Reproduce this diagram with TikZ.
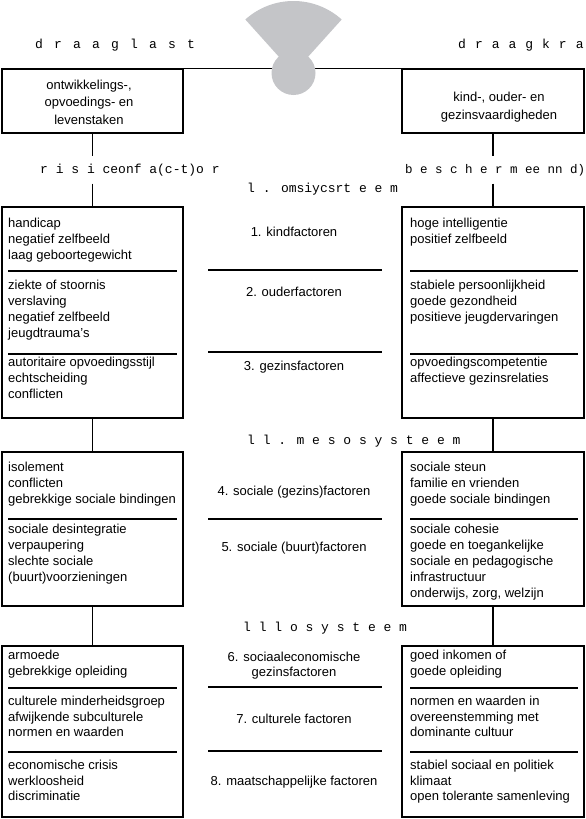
\documentclass[tikz,border=0pt]{standalone}
\usepackage{fontspec}
\setmainfont{Liberation Sans}
\newfontfamily\levelfont{Liberation Mono}
\definecolor{fangray}{RGB}{196,197,200}

\begin{document}
\begin{tikzpicture}[x=1pt, y=-1pt,
    cell/.style={draw, line width=1.3pt, inner sep=0pt},
    item/.style={anchor=mid west, inner sep=0pt, font=\fontsize{13}{16}\selectfont},
    factor/.style={inner sep=0pt, align=center, font=\fontsize{13}{15}\selectfont},
    task/.style={inner sep=0pt, align=center, font=\fontsize{13}{17.5}\selectfont},
    level/.style={anchor=west, inner sep=0pt, minimum height=27pt, font=\levelfont\fontsize{13}{16}\selectfont},
    head/.style={anchor=mid west, inner sep=0pt, font=\levelfont\fontsize{13}{16}\selectfont},
    sep/.style={line width=1.3pt},
    link/.style={line width=1.3pt}
  ]
  \useasboundingbox (0,0) rectangle (586,819);

  % top row
  \node[head] (lblLoad) at (35,46) {\spaceskip=11.2pt d r a a g l a s t};
  \node[head] (lblPower) at (458,46) {\spaceskip=9pt d r a a g k r a};
  \node[cell, minimum width=181pt, minimum height=64pt] (topL) at (92.5,101) {};
  \node[cell, minimum width=182pt, minimum height=64pt] (topR) at (493,101) {};
  \draw[link] (topL.north east) -- (topR.north west);
  \node[task] (taskL) at (89,102) {ontwikkelings-,\\opvoedings- en\\levenstaken};
  \node[task] (taskR) at (499,107) {kind-, ouder- en\\gezinsvaardigheden};

  % balance
  \node[circle, fill=fangray, minimum size=44pt, inner sep=0pt] (hub) at (293.5,73) {};
  \fill[fangray] (hub.center) -- ++(-132:72) arc[start angle=-132, end angle=-48, radius=72] -- cycle;

  % level labels
  \node[level] (lblRisk) at (40,170) {r i s i ceonf a(c-t)o  r};
  \node[level, font=\levelfont\fontsize{12.5}{16}\selectfont] (lblProtect) at (405,170) {b e s c h e r m ee nn d)};
  \node[level] (lblMicro) at (247,189) {l .  omsiycsrt e e m};
  \node[level] (lblMeso) at (247,441) {l l .   m e s o s y s t e e  m};
  \node[level] (lblMacro) at (243,628) {l l l o s y s t e e m};

  % boxes
  \node[cell, minimum width=181pt, minimum height=211pt] (microL) at (92.5,312.5) {};
  \node[cell, minimum width=182pt, minimum height=211pt] (microR) at (493,312.5) {};
  \node[cell, minimum width=181pt, minimum height=154pt] (mesoL) at (92.5,529) {};
  \node[cell, minimum width=182pt, minimum height=154pt] (mesoR) at (493,529) {};
  \node[cell, minimum width=181pt, minimum height=171pt] (macroL) at (92.5,731.5) {};
  \node[cell, minimum width=182pt, minimum height=171pt] (macroR) at (493,731.5) {};

  % connectors
  \draw[link] (topL.south) -- (topL.south |- lblRisk.north);
  \draw[link] (topL.south |- lblRisk.south) -- (microL.north);
  \draw[link] (topR.south) -- (topR.south |- lblProtect.north);
  \draw[link] (topR.south |- lblProtect.south) -- (microR.north);
  \draw[link] (microL.south) -- (mesoL.north);
  \draw[link] (microR.south) -- (mesoR.north);
  \draw[link] (mesoL.south) -- (macroL.north);
  \draw[link] (mesoR.south) -- (macroR.north);

  % separators
  \foreach \y in {271,354,519,688,752} {
    \draw[sep] (8,\y) -- (177,\y);
    \draw[sep] (410,\y) -- (578,\y);
  }
  \foreach \y in {270,352,519,687,751}
    \draw[sep] (208,\y) -- (382,\y);

  % middle column
  \node[factor] (f1) at (294,232) {1. kindfactoren};
  \node[factor] (f2) at (294,292) {2. ouderfactoren};
  \node[factor] (f3) at (294,367) {3. gezinsfactoren};
  \node[factor] (f4) at (294,492) {4. sociale (gezins)factoren};
  \node[factor] (f5) at (294,548) {5. sociale (buurt)factoren};
  \node[factor] (f6) at (294,666) {6. sociaaleconomische\\gezinsfactoren};
  \node[factor] (f7) at (294,719) {7. culturele factoren};
  \node[factor] (f8) at (294,782) {8. maatschappelijke factoren};

  % microsysteem
  \foreach \t [count=\i from 0] in {handicap, negatief zelfbeeld, laag geboortegewicht}
    \node[item] (mla\i) at (8,225+16*\i) {\t};
  \foreach \t [count=\i from 0] in {ziekte of stoornis, verslaving, negatief zelfbeeld, jeugdtrauma's}
    \node[item] (mlb\i) at (8,287+16*\i) {\t};
  \foreach \t [count=\i from 0] in {autoritaire opvoedingsstijl, echtscheiding, conflicten}
    \node[item] (mlc\i) at (8,364+16*\i) {\t};
  \foreach \t [count=\i from 0] in {hoge intelligentie, positief zelfbeeld}
    \node[item] (mra\i) at (410,225+16*\i) {\t};
  \foreach \t [count=\i from 0] in {stabiele persoonlijkheid, goede gezondheid, positieve jeugdervaringen}
    \node[item] (mrb\i) at (410,287+16*\i) {\t};
  \foreach \t [count=\i from 0] in {opvoedingscompetentie, affectieve gezinsrelaties}
    \node[item] (mrc\i) at (410,364+16*\i) {\t};

  % mesosysteem
  \foreach \t [count=\i from 0] in {isolement, conflicten, gebrekkige sociale bindingen}
    \node[item] (sla\i) at (8,469+16*\i) {\t};
  \foreach \t [count=\i from 0] in {sociale desintegratie, verpaupering, slechte sociale, (buurt)voorzieningen}
    \node[item] (slb\i) at (8,531+16*\i) {\t};
  \foreach \t [count=\i from 0] in {sociale steun, familie en vrienden, goede sociale bindingen}
    \node[item] (sra\i) at (410,469+16*\i) {\t};
  \foreach \t [count=\i from 0] in {sociale cohesie, goede en toegankelijke, sociale en pedagogische, infrastructuur, {onderwijs, zorg, welzijn}}
    \node[item] (srb\i) at (410,531+16*\i) {\t};

  % macrosysteem
  \foreach \t [count=\i from 0] in {armoede, gebrekkige opleiding}
    \node[item] (xla\i) at (8,657+15.5*\i) {\t};
  \foreach \t [count=\i from 0] in {culturele minderheidsgroep, afwijkende subculturele, normen en waarden}
    \node[item] (xlb\i) at (8,703+15.5*\i) {\t};
  \foreach \t [count=\i from 0] in {economische crisis, werkloosheid, discriminatie}
    \node[item] (xlc\i) at (8,767+15.5*\i) {\t};
  \foreach \t [count=\i from 0] in {goed inkomen of, goede opleiding}
    \node[item] (xra\i) at (410,657+15.5*\i) {\t};
  \foreach \t [count=\i from 0] in {normen en waarden in, overeenstemming met, dominante cultuur}
    \node[item] (xrb\i) at (410,703+15.5*\i) {\t};
  \foreach \t [count=\i from 0] in {stabiel sociaal en politiek, klimaat, open tolerante samenleving}
    \node[item] (xrc\i) at (410,767+15.5*\i) {\t};
\end{tikzpicture}
\end{document}
